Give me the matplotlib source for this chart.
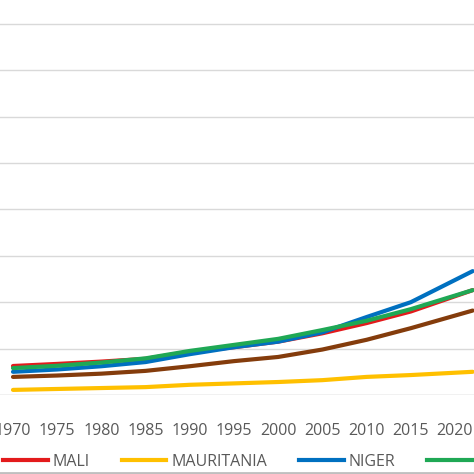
import matplotlib
matplotlib.use("Agg")
import matplotlib.pyplot as plt
from matplotlib.lines import Line2D

years = [1970, 1975, 1980, 1985, 1990, 1995, 2000, 2005, 2010, 2015, 2022]
burkina = [3.9, 4.2, 4.6, 5.2, 6.2, 7.3, 8.2, 9.8, 11.9, 14.4, 18.2]
mali = [6.25, 6.7, 7.2, 7.8, 9.3, 10.3, 11.5, 13.3, 15.5, 18.0, 22.6]
mauritania = [1.1, 1.3, 1.5, 1.7, 2.2, 2.5, 2.8, 3.2, 3.9, 4.3, 5.0]
niger = [5.0, 5.5, 6.2, 7.1, 8.8, 10.3, 11.5, 13.5, 16.8, 20.0, 26.7]
tchad = [5.8, 6.3, 7.0, 7.9, 9.5, 10.8, 12.1, 14.0, 16.0, 18.5, 22.6]
xticks = list(range(1970, 2021, 5))
yticks = list(range(0, 81, 10))

plt.rcParams['font.family'] = ['Open Sans', 'DejaVu Sans']
fig = plt.figure(figsize=(4.74, 4.74), dpi=100)
ax = fig.add_axes([0, 1 - 395 / 474, 1, 395 / 474])
series = [("BURKINA FASO", burkina, "#843c0c"), ("MALI", mali, "#e31a1c"),
          ("MAURITANIA", mauritania, "#ffc000"), ("NIGER", niger, "#0070c0"),
          ("TCHAD", tchad, "#1fa855")]
for name, vals, c in series:
    ax.plot(years, vals, color=c, lw=3, solid_capstyle='round', solid_joinstyle='round')
ax.set_xlim(1970 - 13 / 8.84, 1970 + (474 - 13) / 8.84)
ax.set_ylim(0, 395 / 4.64)
ax.set_yticks(yticks)
ax.set_yticklabels([])
ax.set_xticks(xticks)
ax.set_xticklabels([str(x) for x in xticks], color="#595959", fontsize=11.5)
ax.tick_params(axis='both', length=0, pad=20)
ax.grid(axis='y', color="#d9d9d9", lw=1)
for s in ax.spines.values():
    s.set_visible(False)
ax.axhline(0, color="#d9d9d9", lw=1)

handles = [Line2D([0], [0], color=c, lw=3) for n, v, c in series[1:]]
labels = [n for n, v, c in series[1:]]
fig.legend(handles, labels, loc='center left', bbox_to_anchor=(3 / 474, 12 / 474),
           ncol=4, frameon=False, fontsize=11.5, handlelength=2.8, handletextpad=0.3,
           columnspacing=2.0, borderpad=0, borderaxespad=0, labelcolor="#595959")
fig.add_artist(Line2D([0, 1], [1 / 474, 1 / 474], color="#bfbfbf", lw=2))
fig.savefig("out.png", dpi=100, facecolor="white")
